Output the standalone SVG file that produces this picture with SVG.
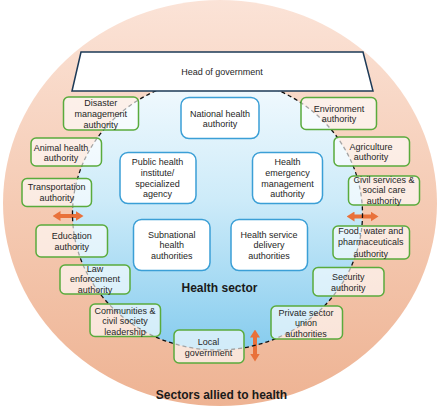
<svg xmlns="http://www.w3.org/2000/svg" width="440" height="406" viewBox="0 0 440 406">
<defs>
<linearGradient id="peach" x1="0" y1="0" x2="0" y2="1">
<stop offset="0" stop-color="#fbe3d7"/>
<stop offset="0.5" stop-color="#f5cbb4"/>
<stop offset="1" stop-color="#eeb393"/>
</linearGradient>
<linearGradient id="blue" x1="0" y1="0" x2="0" y2="1">
<stop offset="0" stop-color="#f3fafe"/>
<stop offset="0.45" stop-color="#cdebf9"/>
<stop offset="1" stop-color="#86ccee"/>
</linearGradient>
<marker id="ah" viewBox="0 0 8 10" markerUnits="userSpaceOnUse" markerWidth="8" markerHeight="10" refX="0.5" refY="5" orient="auto-start-reverse">
<path d="M0,0 L8,5 L0,10 z" fill="#e9713a"/>
</marker>
<style>
.t{font-family:"Liberation Sans",Arial,sans-serif;font-size:9px;fill:#262626;text-anchor:middle}
.b{font-family:"Liberation Sans",Arial,sans-serif;font-size:12px;font-weight:bold;fill:#1a1a1a;text-anchor:middle}
.g{fill:#ffffff;fill-opacity:0.62;stroke:#5aab3c;stroke-width:1.5}
.h{fill:#ffffff;stroke:#3b9fd6;stroke-width:1.5}
.arr{stroke:#e9713a;stroke-width:4;fill:none;marker-start:url(#ah);marker-end:url(#ah)}
</style>
</defs>
<ellipse cx="220" cy="203" rx="217" ry="203" fill="url(#peach)"/>
<ellipse cx="217.5" cy="214" rx="145" ry="136" fill="url(#blue)"/>
<g id="connectors">
<line class="arr" x1="60" y1="216" x2="76" y2="216"/>
<line class="arr" x1="354" y1="216.5" x2="371" y2="216.5"/>
<line class="arr" x1="255" y1="337" x2="255" y2="354"/>
</g>
<ellipse cx="217.5" cy="214" rx="145" ry="136" fill="none" stroke="#111" stroke-width="1.3" stroke-dasharray="4 3"/>
<text class="b" x="219.5" y="291.5">Health sector</text>
<text class="b" x="221.5" y="399">Sectors allied to health</text>
<g id="head">
<path d="M81,52 L363,52 L373,91 L72,91 Z" fill="#fff" stroke="#1d3a57" stroke-width="1.5"/>
<text class="t" x="222" y="75">Head of government</text>
</g>
<g id="national">
<rect class="h" x="181" y="97.5" width="78" height="41" rx="8"/>
<text class="t" x="220" y="116.5">National health</text>
<text class="t" x="220" y="127">authority</text>
</g>
<g id="public-health">
<rect class="h" x="120" y="152.5" width="76" height="51" rx="8"/>
<text class="t" x="157.5" y="165">Public health</text>
<text class="t" x="157.5" y="175.8">institute/</text>
<text class="t" x="157.5" y="186.5">specialized</text>
<text class="t" x="157.5" y="197">agency</text>
</g>
<g id="emergency">
<rect class="h" x="252.5" y="152.5" width="70" height="51" rx="8"/>
<text class="t" x="287.5" y="165">Health</text>
<text class="t" x="287.5" y="175.8">emergency</text>
<text class="t" x="287.5" y="186.5">management</text>
<text class="t" x="287.5" y="197">authority</text>
</g>
<g id="subnational">
<rect class="h" x="133.5" y="219.5" width="76.5" height="51" rx="8"/>
<text class="t" x="171.7" y="237.5">Subnational</text>
<text class="t" x="171.7" y="248.3">health</text>
<text class="t" x="171.7" y="259">authorities</text>
</g>
<g id="service-delivery">
<rect class="h" x="231" y="219.5" width="76.5" height="51" rx="8"/>
<text class="t" x="269" y="237.5">Health service</text>
<text class="t" x="269" y="248.3">delivery</text>
<text class="t" x="269" y="259">authorities</text>
</g>
<g id="disaster">
<rect class="g" x="63.5" y="97" width="75" height="33" rx="5"/>
<text class="t" x="100.7" y="106">Disaster</text>
<text class="t" x="100.7" y="117">management</text>
<text class="t" x="100.7" y="127.5">authority</text>
</g>
<g id="environment">
<rect class="g" x="301" y="97.5" width="75.5" height="32" rx="5"/>
<text class="t" x="339" y="111.5">Environment</text>
<text class="t" x="339" y="122">authority</text>
</g>
<g id="animal">
<rect class="g" x="31" y="138" width="70.5" height="28" rx="5"/>
<text class="t" x="61" y="150.5">Animal health</text>
<text class="t" x="61" y="160.5">authority</text>
</g>
<g id="transportation">
<rect class="g" x="22" y="178.5" width="69.5" height="28" rx="5"/>
<text class="t" x="56.7" y="190">Transportation</text>
<text class="t" x="56.7" y="200.5">authority</text>
</g>
<g id="education">
<rect class="g" x="36" y="225" width="71.5" height="32" rx="5"/>
<text class="t" x="71.7" y="239">Education</text>
<text class="t" x="71.7" y="250">authority</text>
</g>
<g id="law">
<rect class="g" x="60" y="265" width="70" height="29" rx="5"/>
<text class="t" x="95" y="271.5">Law</text>
<text class="t" x="95" y="282">enforcement</text>
<text class="t" x="95" y="292.5">authority</text>
</g>
<g id="communities">
<rect class="g" x="90" y="304" width="70.5" height="32.5" rx="5"/>
<text class="t" x="125" y="313.5">Communities &amp;</text>
<text class="t" x="125" y="324">civil society</text>
<text class="t" x="125" y="334.5">leadership</text>
</g>
<g id="local">
<rect class="g" x="174" y="330" width="70" height="33" rx="5"/>
<text class="t" x="208.5" y="345">Local</text>
<text class="t" x="208.5" y="355.5">government</text>
</g>
<g id="agriculture">
<rect class="g" x="334" y="137" width="75.5" height="29" rx="5"/>
<text class="t" x="371" y="149.5">Agriculture</text>
<text class="t" x="371" y="160">authority</text>
</g>
<g id="civil-services">
<rect class="g" x="348.5" y="176" width="71" height="29" rx="5"/>
<text class="t" x="384" y="182.5">Civil services &amp;</text>
<text class="t" x="384" y="193">social care</text>
<text class="t" x="384" y="203.5">authority</text>
</g>
<g id="food">
<rect class="g" x="333" y="226" width="76.5" height="33" rx="5"/>
<text class="t" x="370.7" y="234">Food, water and</text>
<text class="t" x="370.7" y="245">pharmaceuticals</text>
<text class="t" x="370.7" y="256.5">authority</text>
</g>
<g id="security">
<rect class="g" x="313" y="267.5" width="71" height="28.5" rx="5"/>
<text class="t" x="348.3" y="279.5">Security</text>
<text class="t" x="348.3" y="290.5">authority</text>
</g>
<g id="private">
<rect class="g" x="271" y="306" width="71.5" height="33" rx="5"/>
<text class="t" x="306" y="315.5">Private sector</text>
<text class="t" x="306" y="326">union</text>
<text class="t" x="306" y="336.5">authorities</text>
</g>
</svg>
